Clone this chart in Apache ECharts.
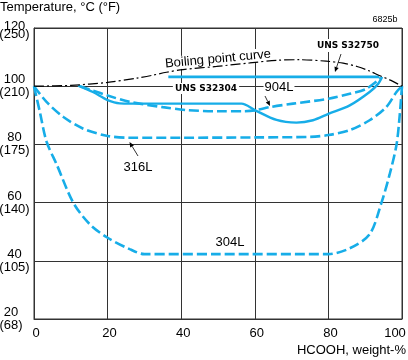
<!DOCTYPE html>
<html>
<head>
<meta charset="utf-8">
<script src="https://cdn.jsdelivr.net/npm/echarts@6/dist/echarts.min.js"></script>
<style>
html,body{margin:0;padding:0;background:#fff;}
#chart{width:408px;height:360px;}
</style>
</head>
<body>
<div id="chart"></div>
<script>
// ---- data (HCOOH weight-%, temperature °C) ----
const xTicks = [0, 20, 40, 60, 80, 100];
const yTicksC = [20, 40, 60, 80, 100, 120];
const yTicksF = ['(68)', '(105)', '(140)', '(175)', '(210)', '(250)'];

const boilingCurve = [[0,100],[10,100.3],[20,101.3],[28,102.8],[32,103.7],[36,104.8],[40.5,105.7],[49.6,106.8],[58.6,108],[66,108.9],[72,109.1],[79.4,108.6],[84,107.9],[88,106.7],[91,105.3],[94,103.6],[97,102],[100,100]];
const s32750 = [[36.5,103.2],[93.8,103.2]];
const s32304 = [[12,100.2],[16,98],[20,95.2],[23.3,94.1],[30,94],[40,94],[50,94],[56.4,94],[60,91.8],[65.9,88.4],[71.3,87.5],[75.8,88.3],[80,90.5],[85.8,93.4],[91.2,98],[93.5,100.8],[94.6,103.2]];
const s904L = [[12.5,100],[16,98.5],[20,96.8],[26,94.6],[35,92.8],[41.5,91.8],[50,91.4],[57,91.4],[60,91.7],[64,92.8],[70.4,94],[80,95.7],[85.8,97.4],[90.3,99.1],[94.3,102.9]];
const s316L = [[0,100],[3.4,94.6],[8,89.4],[13.4,85.4],[20,82.9],[26,82.3],[40,82.3],[60,82.4],[75,82.6],[80,83.2],[85.8,84.9],[91.2,88.3],[95.7,92.8],[98.5,98],[100,100]];
const s304L = [[0,100],[1.6,91.1],[3.4,81],[6.2,73],[10.7,59.9],[15.2,52.5],[19.9,48],[26,44],[30,42.3],[50,42.3],[80,42.3],[85.8,44.3],[91.2,49.1],[94.4,59.9],[96.6,69.5],[98.5,79.8],[99.3,88.9],[100,100]];

const FONT = '"Liberation Sans", Arial, Helvetica, sans-serif';
const BLUE = '#17ade8';
const GRID = '#333';

const chart = echarts.init(document.getElementById('chart'), null, {renderer: 'canvas'});

function arrow(x1, y1, x2, y2) {
  const ang = Math.atan2(y2 - y1, x2 - x1);
  const L = 5, W = 2.2;
  const bx = x2 - L * Math.cos(ang), by = y2 - L * Math.sin(ang);
  const px = -Math.sin(ang) * W, py = Math.cos(ang) * W;
  return [
    {type: 'line', z: 5, shape: {x1, y1, x2: bx, y2: by}, style: {stroke: '#000', lineWidth: 0.8}},
    {type: 'polygon', z: 5, shape: {points: [[x2, y2], [bx + px, by + py], [bx - px, by - py]]}, style: {fill: '#000'}}
  ];
}

function label(text, x, y, opts) {
  return {
    type: 'text', z: 1, x, y,
    style: Object.assign({
      text, fill: '#000', font: '13px ' + FONT,
      textAlign: 'center', textVerticalAlign: 'middle'
    }, opts || {})
  };
}

const blueDashed = {color: BLUE, width: 2.6, type: [10, 4]};

const option = {
  animation: false,
  backgroundColor: '#fff',
  grid: {left: 34, right: 6, top: 28, bottom: 41, show: true, borderColor: GRID, borderWidth: 1, containLabel: false, outerBoundsMode: 'none'},
  xAxis: {
    type: 'value', min: xTicks[0], max: xTicks[xTicks.length - 1], interval: 20,
    axisLine: {show: true, lineStyle: {color: GRID, width: 1}},
    axisTick: {show: false},
    splitLine: {show: true, lineStyle: {color: GRID, width: 1}},
    axisLabel: {
      margin: 8, color: '#000', fontFamily: FONT, fontSize: 13,
      formatter: v => (v === xTicks[xTicks.length - 1] ? '{m|' + v + '}' : '{n|' + v + '}'),
      rich: {
        n: {fontFamily: FONT, fontSize: 13, color: '#000', padding: [0, 0, 0, 4]},
        m: {fontFamily: FONT, fontSize: 13, color: '#000', padding: [0, 14, 0, 0]}
      }
    }
  },
  yAxis: {
    type: 'value', min: yTicksC[0], max: yTicksC[yTicksC.length - 1], interval: 20,
    axisLine: {show: true, lineStyle: {color: GRID, width: 1}},
    axisTick: {show: false},
    splitLine: {show: true, lineStyle: {color: GRID, width: 1}},
    axisLabel: {
      margin: 34, align: 'left', color: '#000',
      formatter: v => {
        const f = yTicksF[yTicksC.indexOf(v)];
        if (v === yTicksC[yTicksC.length - 1]) return '{t|' + v + '}\n{w|' + f + '}';
        const s = f.length > 4 ? 'w' : 'n';
        return '{' + s + '|' + v + '}\n{' + s + '|' + f + '}';
      },
      rich: {
        w: {width: 29, align: 'center', fontFamily: FONT, fontSize: 13, lineHeight: 13, color: '#000'},
        n: {width: 22, align: 'center', fontFamily: FONT, fontSize: 13, lineHeight: 13, color: '#000'},
        t: {width: 29, align: 'center', fontFamily: FONT, fontSize: 13, lineHeight: 13, color: '#000', padding: [10, 0, 0, 0]}
      }
    }
  },
  series: [
    {name: '304L', type: 'line', data: s304L, showSymbol: false, smooth: 0.3, lineStyle: blueDashed, z: 3},
    {name: '316L', type: 'line', data: s316L, showSymbol: false, smooth: 0.3, lineStyle: blueDashed, z: 3},
    {name: '904L', type: 'line', data: s904L, showSymbol: false, smooth: 0.3, lineStyle: blueDashed, z: 3},
    {name: 'UNS S32304', type: 'line', data: s32304, showSymbol: false, smooth: 0.3, lineStyle: {color: BLUE, width: 2.4}, z: 3},
    {name: 'UNS S32750', type: 'line', data: s32750, showSymbol: false, lineStyle: {color: BLUE, width: 2.6}, z: 3},
    {name: 'Boiling point curve', type: 'line', data: boilingCurve, showSymbol: false, smooth: 0.3, lineStyle: {color: '#000', width: 1.2, type: [10, 3, 2, 3]}, z: 4}
  ],
  graphic: [
    label('Temperature, °C (°F)', 0, 7.5, {textAlign: 'left'}),
    label('6825b', 385, 20, {font: '9px ' + FONT}),
    label('HCOOH, weight-%', 406, 350, {textAlign: 'right'}),
    Object.assign(label('Boiling point curve', 0, 0, {backgroundColor: '#fff', padding: [0, 1, 0, 1]}), {x: 218, y: 59, rotation: 0.093}),
    label('UNS S32750', 348, 45.5, {font: 'bold 9px "DejaVu Sans", sans-serif', backgroundColor: '#fff', padding: [2, 1, 2, 1]}),
    label('UNS S32304', 206, 88.5, {font: 'bold 9px "DejaVu Sans", sans-serif', backgroundColor: '#fff', padding: [1, 2, 1, 2]}),
    label('904L', 279, 87.5, {backgroundColor: '#fff', padding: [0, 1, 0, 1]}),
    label('316L', 138, 167),
    label('304L', 230, 242)
  ].concat(arrow(341, 54, 335, 72), arrow(265, 96, 270, 106), arrow(138, 156, 129.5, 142))
};

chart.setOption(option);
</script>
</body>
</html>
